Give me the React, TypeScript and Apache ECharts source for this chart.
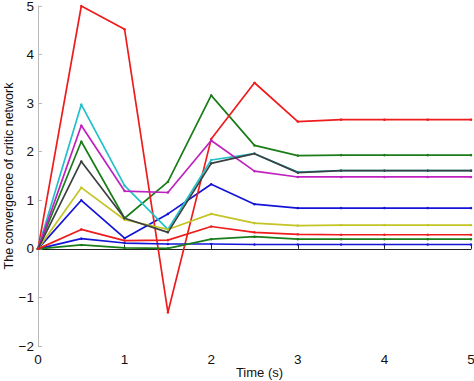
import React, { useEffect, useRef } from "react";
import * as echarts from "echarts";

const times = [0, 0.5, 1, 1.5, 2, 2.5, 3, 3.5, 4, 4.5, 5];
const blueA = [0, 1.0, 0.22, 0.72, 1.33, 0.92, 0.84, 0.84, 0.84, 0.84, 0.84];
const greenA = [0, 2.21, 0.63, 1.38, 3.16, 2.13, 1.92, 1.93, 1.93, 1.93, 1.93];
const redA = [0, 5.0, 4.52, -1.31, 2.26, 3.42, 2.62, 2.66, 2.66, 2.66, 2.66];
const cyanA = [0, 2.97, 1.3, 0.4, 1.83, 1.96, 1.58, 1.61, 1.61, 1.61, 1.61];
const magentaA = [0, 2.54, 1.19, 1.16, 2.23, 1.6, 1.48, 1.48, 1.48, 1.48, 1.48];
const yellowA = [0, 1.26, 0.6, 0.4, 0.72, 0.53, 0.48, 0.49, 0.49, 0.49, 0.49];
const grayA = [0, 1.8, 0.63, 0.34, 1.76, 1.96, 1.57, 1.61, 1.61, 1.61, 1.61];
const blueB = [0, 0.21, 0.12, 0.1, 0.1, 0.09, 0.09, 0.09, 0.09, 0.09, 0.09];
const greenB = [0, 0.08, 0.02, 0.01, 0.2, 0.25, 0.2, 0.2, 0.2, 0.2, 0.2];
const redB = [0, 0.4, 0.17, 0.18, 0.46, 0.34, 0.3, 0.29, 0.29, 0.29, 0.29];

const seriesList = [
  { name: "s1", values: blueA, color: "#1414d8" },
  { name: "s2", values: greenA, color: "#1a7d1a" },
  { name: "s3", values: redA, color: "#ee1c1c" },
  { name: "s4", values: cyanA, color: "#22c0c8" },
  { name: "s5", values: magentaA, color: "#c020c0" },
  { name: "s6", values: yellowA, color: "#c4c424" },
  { name: "s7", values: grayA, color: "#3c4040" },
  { name: "s8", values: blueB, color: "#1414d8" },
  { name: "s9", values: greenB, color: "#1a7d1a" },
  { name: "s10", values: redB, color: "#ee1c1c" },
];

const FONT = "'Liberation Sans', Arial, sans-serif";

export default function App() {
  const ref = useRef<HTMLDivElement>(null);
  useEffect(() => {
    if (!ref.current) return;
    const chart = echarts.init(ref.current, undefined, { renderer: "svg" });
    chart.setOption({
      animation: false,
      backgroundColor: "#ffffff",
      grid: {
        left: 38,
        right: 3,
        top: 6,
        bottom: 35,
        containLabel: false,
        outerBoundsMode: "none",
      },
      xAxis: {
        type: "value",
        min: 0,
        max: 5,
        interval: 1,
        name: "Time (s)",
        nameLocation: "middle",
        nameGap: 20,
        nameMoveOverlap: false,
        nameTextStyle: { fontSize: 13, color: "#111", fontFamily: FONT, padding: [0, 0, 0, 10] },
        axisLine: { show: true, lineStyle: { color: "#222", width: 1 } },
        axisTick: { show: true, inside: true, length: 4, lineStyle: { color: "#222" } },
        axisLabel: { fontSize: 13.5, color: "#111", fontFamily: FONT, margin: 6 },
        splitLine: { show: false },
      },
      yAxis: {
        type: "value",
        min: -2,
        max: 5,
        interval: 1,
        name: "The convergence of critic network",
        nameLocation: "middle",
        nameGap: 23,
        nameMoveOverlap: false,
        nameRotate: 90,
        nameTextStyle: { fontSize: 12.5, color: "#111", fontFamily: FONT },
        axisLine: { show: true, lineStyle: { color: "#b8b8b8", width: 1 } },
        axisTick: { show: true, inside: true, length: 4, lineStyle: { color: "#b8b8b8" } },
        axisLabel: {
          fontSize: 13.5,
          color: "#111",
          fontFamily: FONT,
          margin: 4,
          formatter: (v: number) => String(v).replace("-", "\u2212"),
        },
        splitLine: { show: false },
      },
      series: seriesList.map((s) => ({
        name: s.name,
        type: "line",
        data: times.map((t, i) => [t, s.values[i]]),
        symbol: "circle",
        symbolSize: 2.5,
        showAllSymbol: true,
        lineStyle: { color: s.color, width: 1.7 },
        itemStyle: { color: s.color },
      })),
    });
    return () => chart.dispose();
  }, []);
  return (
    <div
      ref={ref}
      style={{ position: "fixed", left: 0, top: 0, width: 474, height: 381 }}
    />
  );
}
